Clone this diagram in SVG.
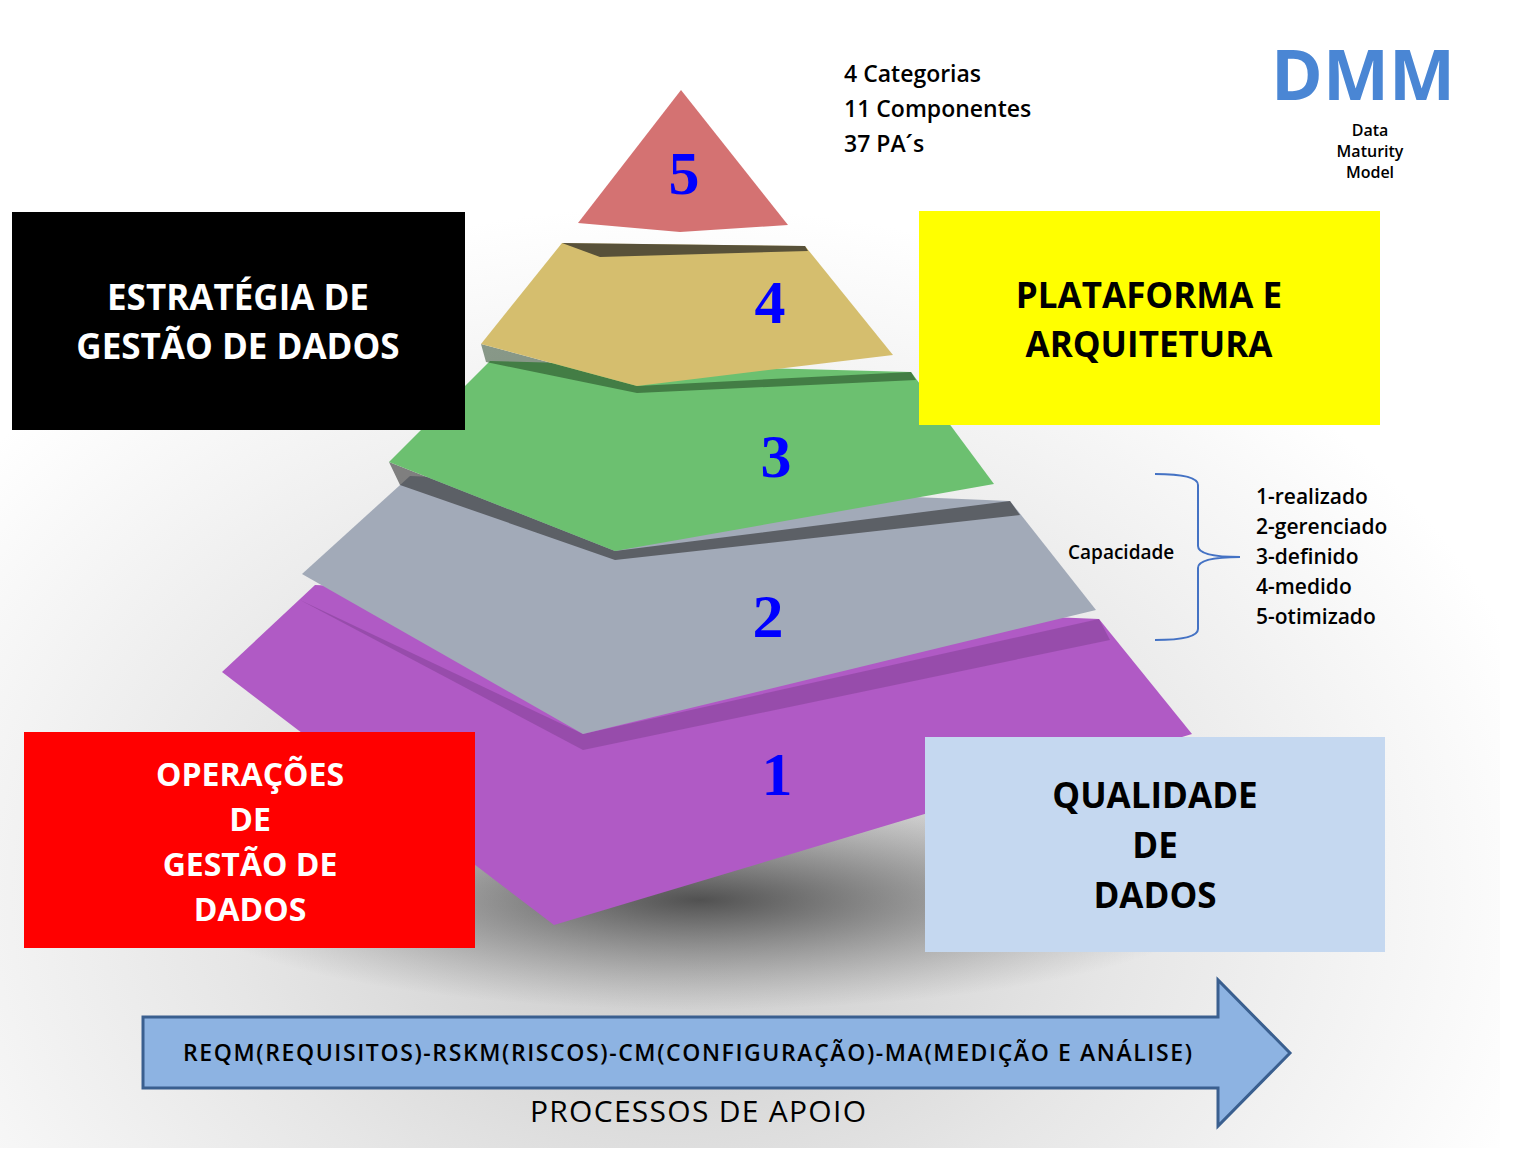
<svg xmlns="http://www.w3.org/2000/svg" width="1513" height="1156" viewBox="0 0 1513 1156">
<defs>
<radialGradient id="bg" cx="0.45" cy="0.78" r="0.6">
<stop offset="0" stop-color="#c8c8c8"/><stop offset="0.5" stop-color="#e6e6e6"/><stop offset="1" stop-color="#ffffff"/>
</radialGradient>
<radialGradient id="sh" cx="0.5" cy="0.5" r="0.5">
<stop offset="0" stop-color="#333" stop-opacity="0.8"/><stop offset="1" stop-color="#666" stop-opacity="0"/>
</radialGradient>
<style>
.box{font-family:"Open Sans","Liberation Sans",sans-serif;font-weight:bold;text-anchor:middle}
.num{font-family:"Liberation Serif",serif;font-weight:bold;fill:#0000ff;font-size:62px;text-anchor:middle}
.sm{font-family:"Open Sans","Liberation Sans",sans-serif;font-weight:600}
</style>
</defs>
<rect width="1500" height="1148" fill="url(#bg)"/>
<ellipse cx="700" cy="900" rx="520" ry="110" fill="url(#sh)"/>
<g id="tier1">
<polygon points="315,585 1099,619 1192,734 554,925 222,672" fill="#b05ac5"/>
<text class="num" x="777" y="795">1</text>
</g>
<g id="tier2">
<polygon points="300,600 583,750 1110,640 1099,619 583,734" fill="#7a3c8c" opacity="0.45"/>
<polygon points="410,476 1010,501 1096,610 583,734 302,574" fill="#a2aab8"/>
<text class="num" x="768" y="637">2</text>
</g>
<g id="tier3">
<polygon points="400,485 615,560 1020,515 1010,501 615,551 389,462" fill="#222" opacity="0.55"/>
<polygon points="490,361 911,372 994,484 615,551 389,462" fill="#6cc070"/>
<text class="num" x="776" y="477">3</text>
</g>
<g id="tier4">
<polygon points="486,362 637,393 916,380 911,372 637,386 481,344" fill="#1a3a1a" opacity="0.5"/>
<polygon points="562,243 805,246 893,355 637,386 481,344" fill="#d5be6e"/>
<polygon points="562,243 805,246 808,251 600,257" fill="#222" opacity="0.7"/>
<text class="num" x="770" y="323">4</text>
</g>
<g id="tier5">
<polygon points="681,90 788,225 680,232 578,223" fill="#d47272"/>
<text class="num" x="684" y="194">5</text>
</g>
<g id="estrategia">
<rect x="12" y="212" width="453" height="218" fill="#000"/>
<text class="box" font-size="35" fill="#fff"><tspan x="238" y="310">ESTRATÉGIA DE</tspan><tspan x="238" y="359">GESTÃO DE DADOS</tspan></text>
</g>
<g id="plataforma">
<rect x="919" y="211" width="461" height="214" fill="#ffff00"/>
<text class="box" font-size="35" fill="#000"><tspan x="1149" y="308">PLATAFORMA E</tspan><tspan x="1149" y="357">ARQUITETURA</tspan></text>
</g>
<g id="operacoes">
<rect x="24" y="732" width="451" height="216" fill="#ff0000"/>
<text class="box" font-size="32" fill="#fff"><tspan x="250" y="786">OPERAÇÕES</tspan><tspan x="250" y="831">DE</tspan><tspan x="250" y="876">GESTÃO DE</tspan><tspan x="250" y="921">DADOS</tspan></text>
</g>
<g id="qualidade">
<rect x="925" y="737" width="460" height="215" fill="#c5d8f0"/>
<text class="box" font-size="35" fill="#000"><tspan x="1155" y="808">QUALIDADE</tspan><tspan x="1155" y="858">DE</tspan><tspan x="1155" y="908">DADOS</tspan></text>
</g>
<g id="info">
<text class="sm" font-size="23" fill="#000"><tspan x="844" y="82">4 Categorias</tspan><tspan x="844" y="117">11 Componentes</tspan><tspan x="844" y="152">37 PA´s</tspan></text>
</g>
<g id="dmm">
<text x="1363" y="100" font-family="Open Sans, Liberation Sans, sans-serif" font-weight="bold" font-size="70" fill="#4a86d4" text-anchor="middle">DMM</text>
<text class="sm" font-size="16" text-anchor="middle"><tspan x="1370" y="136">Data</tspan><tspan x="1370" y="157">Maturity</tspan><tspan x="1370" y="178">Model</tspan></text>
</g>
<g id="capacidade">
<text class="sm" x="1068" y="559" font-size="19">Capacidade</text>
<text class="sm" font-size="21"><tspan x="1256" y="504">1-realizado</tspan><tspan x="1256" y="534">2-gerenciado</tspan><tspan x="1256" y="564">3-definido</tspan><tspan x="1256" y="594">4-medido</tspan><tspan x="1256" y="624">5-otimizado</tspan></text>
</g>
<g id="connectors">
<path d="M1155,474 Q1198,474 1198,485 L1198,546 Q1198,557 1240,557 Q1198,557 1198,568 L1198,629 Q1198,640 1155,640" fill="none" stroke="#4472c4" stroke-width="2"/>
<polygon points="143,1017 1218,1017 1218,980 1290,1053 1218,1126 1218,1088 143,1088" fill="#8db3e2" stroke="#3a5f8f" stroke-width="3"/>
</g>
<g id="apoio">
<text class="sm" x="183" y="1061" font-size="23" font-weight="bold" textLength="1009">REQM(REQUISITOS)-RSKM(RISCOS)-CM(CONFIGURAÇÃO)-MA(MEDIÇÃO  E ANÁLISE)</text>
<text x="698" y="1122" font-family="Open Sans, Liberation Sans, sans-serif" font-size="30" text-anchor="middle" textLength="336">PROCESSOS DE APOIO</text>
</g>
</svg>
